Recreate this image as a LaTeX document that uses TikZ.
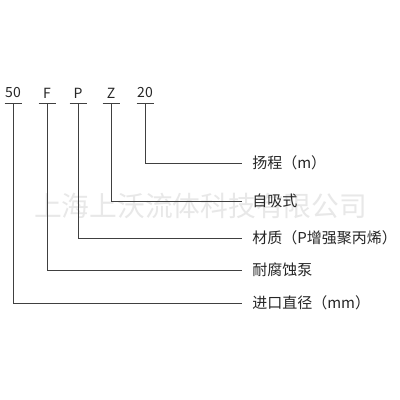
\documentclass[tikz,border=0pt]{standalone}
\usepackage{fontspec}
\setmainfont{Noto Sans CJK SC}
\newfontfamily\cjk{Noto Sans CJK SC}
\begin{document}
\begin{tikzpicture}[x=0.75pt,y=-0.75pt,
  code/.style={inner xsep=0pt,inner ysep=3.5pt,anchor=south,font=\cjk\fontsize{10.5}{12}\selectfont,text=black!85},
  desc/.style={anchor=west,inner xsep=7.5pt,inner ysep=0pt,font=\cjk\fontsize{11.25}{13}\selectfont,text=black!85},
  ln/.style={draw=black!75,line width=0.55pt},
  wm/.style={font=\cjk\fontsize{20.8}{24}\selectfont,text=black!9}]
\useasboundingbox[fill=white] (0,0) rectangle (400,400);
% watermark
\node[wm,anchor=west,inner sep=0pt] (wmark) at (34,206) {上海上沃流体科技有限公司};
% codes
\node[code] (c50) at (13,103) {50};
\node[code] (cF) at (47,103) {F};
\node[code] (cP) at (78,103) {P};
\node[code] (cZ) at (111,103) {Z};
\node[code] (c20) at (145,103) {20};
% underlines
\foreach \n in {c50,cF,cP,cZ,c20}{
  \draw[ln] ([xshift=-8.5*0.75pt]\n.south) -- ([xshift=8.5*0.75pt]\n.south);
}
% descriptions
\node[desc] (d20) at (242,163) {扬程（m）};
\node[desc] (dZ) at (242,201) {自吸式};
\node[desc] (dP) at (242,238) {材质（P增强聚丙烯）};
\node[desc] (dF) at (242,270) {耐腐蚀泵};
\node[desc] (d50) at (242,303) {进口直径（mm）};
% connectors
\draw[ln] (c20.south) |- (d20.west);
\draw[ln] (cZ.south) |- (dZ.west);
\draw[ln] (cP.south) |- (dP.west);
\draw[ln] (cF.south) |- (dF.west);
\draw[ln] (c50.south) |- (d50.west);
\end{tikzpicture}
\end{document}
